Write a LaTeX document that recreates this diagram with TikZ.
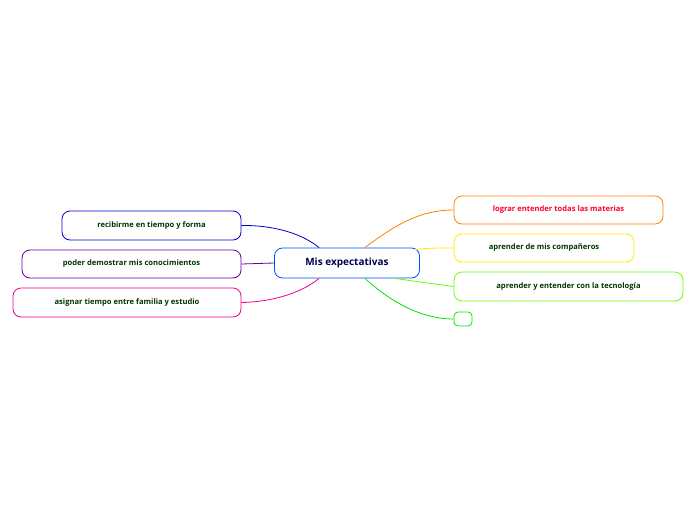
\documentclass[tikz,border=0pt]{standalone}
\usepackage{fontspec}
\setmainfont{Open Sans}
\begin{document}
\begin{tikzpicture}[x=1pt,y=-1pt,
 box/.style={draw,rounded corners=8pt,line width=0.8pt,inner sep=0pt,font=\fontsize{7.6}{9}\selectfont\bfseries,text=green!20!black},
 link/.style={line width=0.8pt}]
\useasboundingbox (0,0) rectangle (696,520);
\node[box,draw=blue!70!cyan,minimum width=145pt,minimum height=30pt,font=\fontsize{10}{12}\selectfont\bfseries,text=blue!30!black] (c) at (347,263) {Mis expectativas};
\node[box,draw=blue!80!black,minimum width=179pt,minimum height=29pt] (l1) at (151.5,225.5) {recibirme en tiempo y forma};
\node[box,draw=violet!80!blue,minimum width=219pt,minimum height=28pt] (l2) at (131.5,264) {poder demostrar mis conocimientos};
\node[box,draw=magenta,minimum width=228pt,minimum height=29pt] (l3) at (127,302.5) {asignar tiempo entre familia y estudio};
\node[box,draw=orange,minimum width=209pt,minimum height=28pt,text=red!80!magenta] (r1) at (558.5,210) {lograr entender todas las materias};
\node[box,draw=yellow!90!orange,minimum width=180pt,minimum height=28pt] (r2) at (544,248) {aprender de mis compañeros};
\node[box,draw=green!60!yellow,minimum width=229pt,minimum height=29pt] (r3) at (568.5,286.5) {aprender y entender con la tecnología};
\node[box,draw=green!90!black,rounded corners=4pt,minimum width=18pt,minimum height=14pt] (r4) at (463,319) {};
\draw[link,blue!80!black] (c.north west)++(45,0) .. controls (300,232) and (270,225) .. (l1.east);
\draw[link,violet!80!blue] (c.west) -- (l2.east);
\draw[link,magenta] (c.south west)++(45,0) .. controls (300,294) and (270,302) .. (l3.east);
\draw[link,orange] (c.north east)++(-55,0) .. controls (395,225) and (420,210) .. (r1.west);
\draw[link,yellow!90!orange] (c.north east)++(-5,2) .. controls (430,248) .. (r2.west);
\draw[link,green!60!yellow] (c.south east)++(-25,0) .. controls (420,282) .. (r3.west);
\draw[link,green!90!black] (c.south east)++(-55,0) .. controls (400,310) and (430,319) .. (r4.west);
\end{tikzpicture}
\end{document}
